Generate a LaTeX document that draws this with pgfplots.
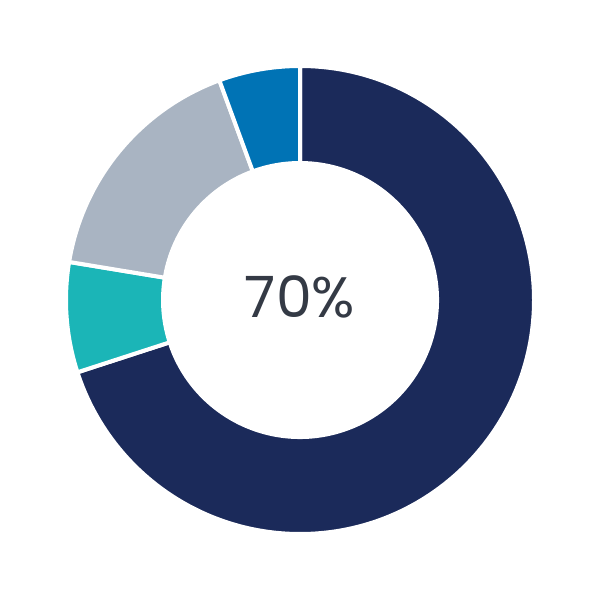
\documentclass[border=0pt]{standalone}
\usepackage{pgfplots}
\pgfplotsset{compat=1.18}
\usepackage{fontspec}
\newfontfamily\labelfont{Poppins}

\definecolor{navy}{HTML}{1B2A5A}
\definecolor{teal}{HTML}{1BB5B7}
\definecolor{slate}{HTML}{A9B4C2}
\definecolor{ocean}{HTML}{0073B5}
\definecolor{ink}{HTML}{343A45}

% outer and inner radius (axis units = pt), white border eats 2pt each side
\def\rout{234}
\def\rin{137}
\xdef\cum{0}

% \slice{share in %}{colour}: ring segment, clockwise from 12 o'clock
\newcommand\slice[2]{%
  \pgfmathsetmacro\a{90-3.6*\cum}%
  \pgfmathsetmacro\b{90-3.6*(\cum+#1)}%
  \pgfmathsetmacro\xa{\rout*cos(\a)}\pgfmathsetmacro\ya{\rout*sin(\a)}%
  \pgfmathsetmacro\xb{\rin*cos(\b)}\pgfmathsetmacro\yb{\rin*sin(\b)}%
  \edef\tmp{\noexpand\filldraw[fill=#2, draw=white, line width=4pt, line join=miter]
    (axis cs:\xa,\ya) arc[start angle=\a, end angle=\b, radius=\rout pt]
    -- (axis cs:\xb,\yb) arc[start angle=\b, end angle=\a, radius=\rin pt] -- cycle;}%
  \tmp
  \pgfmathsetmacro\c{\cum+#1}\xdef\cum{\c}%
}

\begin{document}
\begin{tikzpicture}
\begin{axis}[
  x=1pt, y=1pt,
  xmin=-300, xmax=300, ymin=-300, ymax=300,
  hide axis, clip=false,
]
  \path (axis cs:-300,-300) rectangle (axis cs:300,300);
  \slice{70}{navy}
  \slice{7.6}{teal}
  \slice{16.8}{slate}
  \slice{5.6}{ocean}
  \node[text=ink, font=\labelfont\fontsize{57}{60}\selectfont] at (axis cs:0,3) {70\%};
\end{axis}
\end{tikzpicture}
\end{document}
